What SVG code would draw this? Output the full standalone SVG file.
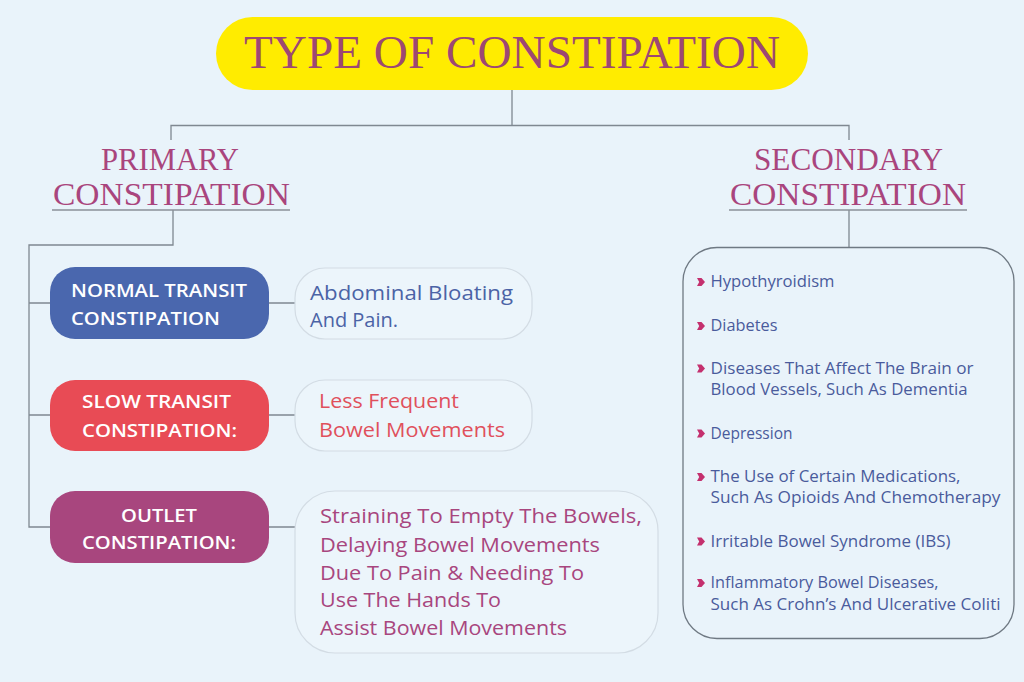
<svg xmlns="http://www.w3.org/2000/svg" width="1024" height="682" viewBox="0 0 1024 682">
<style>
.title{font-family:"Liberation Serif","Times New Roman",serif;font-size:46px;fill:#9D4873}
.head{font-family:"Liberation Serif","Times New Roman",serif;font-size:31px;fill:#A9457D}
.lbl{font-family:"Open Sans","Noto Sans",sans-serif;font-size:18px;font-weight:600;fill:#FFFFFF}
.det{font-family:"Open Sans","Noto Sans",sans-serif;font-size:20px;font-weight:500}
.itm{font-family:"Open Sans","Noto Sans",sans-serif;font-size:15.5px;font-weight:500;fill:#4A5B9C}
.conn{fill:none;stroke:#7F8891;stroke-width:1.3}
.ul{stroke:#8A9098;stroke-width:1.3}
.dbox{fill:#ECF5FB;stroke:#D3DCE4;stroke-width:1.2}
</style>
<defs>
<path id="bul" d="M0,0 L4.5,0 L8,4 L4.5,8 L0,8 L2.2,4 Z" fill="#C4306E"/>
</defs>
<rect width="1024" height="682" fill="#E9F3FA"/>

<g id="connectors">
<path class="conn" d="M512,90 V125.5 M171,140 V125.5 H849 V140"/>
<path class="conn" d="M173,210 V245 H29 V527 H50 M29,303 H50 M29,415 H50"/>
<path class="conn" d="M268,303 H295 M268,415 H295 M268,527 H295"/>
<path class="conn" d="M849,210 V248"/>
</g>

<g id="title">
<rect x="216" y="17" width="592" height="73" rx="36.5" fill="#FFEC00"/>
<text class="title" x="244" y="68" textLength="536" lengthAdjust="spacingAndGlyphs">TYPE OF CONSTIPATION</text>
</g>

<g id="primary">
<text class="head" x="101" y="170" textLength="138" lengthAdjust="spacingAndGlyphs">PRIMARY</text>
<text class="head" x="53" y="205" textLength="237" lengthAdjust="spacingAndGlyphs">CONSTIPATION</text>
<line class="ul" x1="52" y1="210" x2="290" y2="210"/>
</g>

<g id="secondary">
<text class="head" x="754" y="170" textLength="189" lengthAdjust="spacingAndGlyphs">SECONDARY</text>
<text class="head" x="730" y="205" textLength="236" lengthAdjust="spacingAndGlyphs">CONSTIPATION</text>
<line class="ul" x1="729" y1="210" x2="967" y2="210"/>
</g>

<g id="normal-transit">
<rect x="50" y="267" width="219" height="72" rx="25" fill="#4A67AE"/>
<text class="lbl" x="71" y="297" textLength="176" lengthAdjust="spacingAndGlyphs">NORMAL TRANSIT</text>
<text class="lbl" x="71" y="325" textLength="149" lengthAdjust="spacingAndGlyphs">CONSTIPATION</text>
</g>
<g id="normal-detail">
<rect class="dbox" x="295" y="268" width="237" height="71" rx="30"/>
<text class="det" fill="#4B63A6" x="310" y="300" textLength="203" lengthAdjust="spacingAndGlyphs">Abdominal Bloating</text>
<text class="det" fill="#4B63A6" x="310" y="327" textLength="88" lengthAdjust="spacingAndGlyphs">And Pain.</text>
</g>

<g id="slow-transit">
<rect x="50" y="380" width="219" height="71" rx="25" fill="#E84B55"/>
<text class="lbl" x="82" y="408" textLength="149" lengthAdjust="spacingAndGlyphs">SLOW TRANSIT</text>
<text class="lbl" x="82" y="436.5" textLength="155" lengthAdjust="spacingAndGlyphs">CONSTIPATION:</text>
</g>
<g id="slow-detail">
<rect class="dbox" x="295" y="380" width="237" height="71" rx="30"/>
<text class="det" fill="#E0505C" x="319" y="408" textLength="140" lengthAdjust="spacingAndGlyphs">Less Frequent</text>
<text class="det" fill="#E0505C" x="319" y="436.5" textLength="186" lengthAdjust="spacingAndGlyphs">Bowel Movements</text>
</g>

<g id="outlet">
<rect x="50" y="491" width="219" height="72" rx="25" fill="#A8467E"/>
<text class="lbl" x="121" y="521.5" textLength="76" lengthAdjust="spacingAndGlyphs">OUTLET</text>
<text class="lbl" x="82" y="549" textLength="154" lengthAdjust="spacingAndGlyphs">CONSTIPATION:</text>
</g>
<g id="outlet-detail">
<rect class="dbox" x="295" y="491" width="363" height="162" rx="40"/>
<text class="det" fill="#A8467E" x="320" y="523" textLength="322" lengthAdjust="spacingAndGlyphs">Straining To Empty The Bowels,</text>
<text class="det" fill="#A8467E" x="320" y="551.5" textLength="280" lengthAdjust="spacingAndGlyphs">Delaying Bowel Movements</text>
<text class="det" fill="#A8467E" x="320" y="580" textLength="264" lengthAdjust="spacingAndGlyphs">Due To Pain &amp; Needing To</text>
<text class="det" fill="#A8467E" x="320" y="607" textLength="181" lengthAdjust="spacingAndGlyphs">Use The Hands To</text>
<text class="det" fill="#A8467E" x="320" y="635" textLength="247" lengthAdjust="spacingAndGlyphs">Assist Bowel Movements</text>
</g>

<g id="secondary-list">
<rect x="683" y="247.5" width="331" height="391" rx="34" fill="none" stroke="#6F7983" stroke-width="1.3"/>
<use href="#bul" x="697" y="278"/>
<text class="itm" x="710.5" y="287" textLength="124" lengthAdjust="spacingAndGlyphs">Hypothyroidism</text>
<use href="#bul" x="697" y="322"/>
<text class="itm" x="710.5" y="331" textLength="67" lengthAdjust="spacingAndGlyphs">Diabetes</text>
<use href="#bul" x="697" y="364.5"/>
<text class="itm" x="710.5" y="373.5" textLength="263" lengthAdjust="spacingAndGlyphs">Diseases That Affect The Brain or</text>
<text class="itm" x="710.5" y="395" textLength="257" lengthAdjust="spacingAndGlyphs">Blood Vessels, Such As Dementia</text>
<use href="#bul" x="697" y="429.5"/>
<text class="itm" x="710.5" y="438.5" textLength="82" lengthAdjust="spacingAndGlyphs">Depression</text>
<use href="#bul" x="697" y="473"/>
<text class="itm" x="710.5" y="482" textLength="250" lengthAdjust="spacingAndGlyphs">The Use of Certain Medications,</text>
<text class="itm" x="710.5" y="503" textLength="290" lengthAdjust="spacingAndGlyphs">Such As Opioids And Chemotherapy</text>
<use href="#bul" x="697" y="537.5"/>
<text class="itm" x="710.5" y="546.5" textLength="240" lengthAdjust="spacingAndGlyphs">Irritable Bowel Syndrome (IBS)</text>
<use href="#bul" x="697" y="579"/>
<text class="itm" x="710.5" y="588" textLength="228" lengthAdjust="spacingAndGlyphs">Inflammatory Bowel Diseases,</text>
<text class="itm" x="710.5" y="609.5" textLength="290" lengthAdjust="spacingAndGlyphs">Such As Crohn’s And Ulcerative Coliti</text>
</g>
</svg>
